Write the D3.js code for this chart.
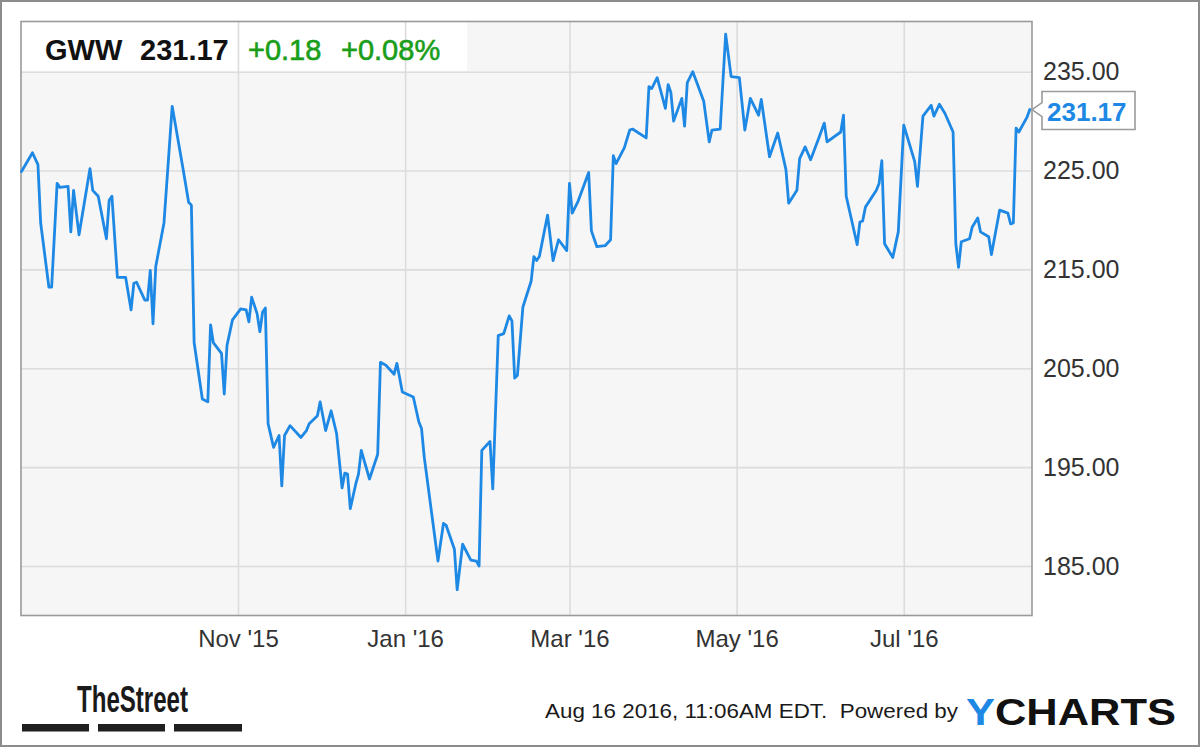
<!DOCTYPE html>
<html>
<head>
<meta charset="utf-8">
<script src="https://cdn.jsdelivr.net/npm/d3@7"></script>
<style>
  html, body { margin: 0; padding: 0; background: #fff; }
  svg { display: block; font-family: "Liberation Sans", Arial, sans-serif; }
</style>
</head>
<body>
<svg id="chart" width="1200" height="747"></svg>
<script>
// ---- data ----
const ticker = "GWW";
const lastPrice = "231.17";
const change = "+0.18";
const changePct = "+0.08%";

const dates = [
  "2015-08-14","2015-08-18","2015-08-20","2015-08-21","2015-08-24","2015-08-25","2015-08-27","2015-08-28","2015-08-31",
  "2015-09-01","2015-09-02","2015-09-04","2015-09-08","2015-09-09","2015-09-11","2015-09-14","2015-09-15","2015-09-16",
  "2015-09-18","2015-09-21","2015-09-23","2015-09-24","2015-09-25","2015-09-28","2015-09-29","2015-09-30",
  "2015-10-01","2015-10-02","2015-10-05","2015-10-08","2015-10-12","2015-10-14","2015-10-15","2015-10-16","2015-10-19",
  "2015-10-21","2015-10-22","2015-10-23","2015-10-26","2015-10-27","2015-10-28","2015-10-30",
  "2015-11-02","2015-11-04","2015-11-05","2015-11-06","2015-11-08","2015-11-09","2015-11-10","2015-11-11","2015-11-12",
  "2015-11-14","2015-11-16","2015-11-17","2015-11-18","2015-11-20","2015-11-24","2015-11-26","2015-11-27","2015-11-30",
  "2015-12-01","2015-12-03","2015-12-05","2015-12-07","2015-12-09","2015-12-10","2015-12-11","2015-12-12","2015-12-14",
  "2015-12-15","2015-12-16","2015-12-19","2015-12-22","2015-12-23","2015-12-25","2015-12-28","2015-12-29","2015-12-31",
  "2016-01-04","2016-01-06","2016-01-07","2016-01-08","2016-01-13","2016-01-15","2016-01-16","2016-01-19","2016-01-20",
  "2016-01-22","2016-01-25","2016-01-27","2016-01-28","2016-01-29",
  "2016-02-01","2016-02-02","2016-02-04","2016-02-06","2016-02-08","2016-02-09","2016-02-10","2016-02-11","2016-02-13",
  "2016-02-16","2016-02-17","2016-02-18","2016-02-19","2016-02-22","2016-02-24","2016-02-26","2016-02-29",
  "2016-03-01","2016-03-02","2016-03-04","2016-03-08","2016-03-09","2016-03-11","2016-03-14","2016-03-16","2016-03-17",
  "2016-03-18","2016-03-21","2016-03-23","2016-03-24","2016-03-29","2016-03-30","2016-03-31",
  "2016-04-02","2016-04-05","2016-04-06","2016-04-07","2016-04-08","2016-04-11","2016-04-12","2016-04-13","2016-04-15",
  "2016-04-19","2016-04-21","2016-04-22","2016-04-25","2016-04-27","2016-04-29",
  "2016-05-02","2016-05-04","2016-05-06","2016-05-09","2016-05-10","2016-05-13","2016-05-16","2016-05-19","2016-05-20",
  "2016-05-23","2016-05-24","2016-05-26","2016-05-28","2016-05-31",
  "2016-06-02","2016-06-03","2016-06-08","2016-06-09","2016-06-10","2016-06-14","2016-06-15","2016-06-16","2016-06-17",
  "2016-06-21","2016-06-22","2016-06-23","2016-06-24","2016-06-27","2016-06-29",
  "2016-07-01","2016-07-05","2016-07-06","2016-07-08","2016-07-11","2016-07-12","2016-07-14","2016-07-16","2016-07-19",
  "2016-07-20","2016-07-21","2016-07-22","2016-07-25","2016-07-26","2016-07-28","2016-07-29",
  "2016-08-01","2016-08-02","2016-08-05","2016-08-08","2016-08-09","2016-08-10","2016-08-11","2016-08-12","2016-08-15","2016-08-16"
];

const prices = [
  224.9,226.8,225.6,219.7,213.2,213.2,223.7,223.3,223.4,
  218.8,223.0,218.5,225.2,223.0,222.4,218.1,222.0,222.4,
  214.2,214.2,210.9,213.6,213.7,211.9,211.9,214.9,
  209.5,215.3,219.7,231.5,225.1,221.8,221.5,207.6,201.9,
  201.6,209.4,207.6,206.5,202.4,207.3,209.9,
  211.0,210.9,209.7,212.2,210.5,208.7,210.7,211.1,199.4,
  197.0,198.2,193.1,198.2,199.2,198.0,198.7,199.4,200.2,
  201.6,198.7,200.7,198.4,192.9,194.4,194.3,190.8,193.3,
  194.3,196.7,193.8,196.3,205.6,205.3,204.4,205.5,202.6,
  202.1,199.6,198.9,196.0,185.5,189.3,189.1,186.7,182.6,
  187.2,185.6,185.5,185.0,196.7,
  197.6,192.8,208.3,208.5,210.3,209.8,204.0,204.3,211.2,
  213.8,216.3,215.9,216.3,220.5,215.9,218.0,216.9,
  223.7,220.7,221.8,224.8,218.9,217.3,217.4,218.0,226.5,
  225.7,227.3,229.1,229.2,228.3,233.5,233.3,
  234.4,231.3,233.7,232.9,230.0,232.3,229.5,233.9,235.0,
  232.0,227.9,229.1,229.2,238.8,234.5,
  234.4,229.1,232.3,230.6,232.2,226.4,228.8,225.1,221.7,
  223.0,226.2,227.4,226.1,228.3,
  229.8,227.9,228.9,230.6,222.4,217.5,219.8,219.9,221.3,
  223.0,223.7,226.0,217.6,216.2,218.8,
  229.6,225.9,223.4,230.5,231.6,230.5,231.7,230.8,228.9,
  217.6,215.2,217.8,218.1,219.3,220.2,218.8,
  218.3,216.5,221.0,220.7,219.6,219.7,229.3,228.9,230.4,231.17
];

const yTicks = [185, 195, 205, 215, 225, 235];
const xTickDates = ["2015-11-01", "2016-01-01", "2016-03-01", "2016-05-01", "2016-07-01"];
const xTickLabels = ["Nov '15", "Jan '16", "Mar '16", "May '16", "Jul '16"];
const xDomain = ["2015-08-14", "2016-08-16"];
const footerText = "Aug 16 2016, 11:06AM EDT.  Powered by";

// ---- layout ----
const parse = d3.utcParse("%Y-%m-%d");
const data = dates.map((d, i) => ({ date: parse(d), v: prices[i] }));

const plot = { left: 21, top: 21.5, right: 1032, bottom: 615.5 };
const lineColor = "#1e88e5";

const x = d3.scaleUtc().domain(xDomain.map(parse)).range([21.5, 1029.8]);
const y = d3.scaleLinear().domain([185, 235]).range([566, 71.7]);

const svg = d3.select("#chart");

// outer frame
svg.append("rect").attr("x", 1).attr("y", 1).attr("width", 1198).attr("height", 745)
  .attr("fill", "#fff").attr("stroke", "#8c8c8c").attr("stroke-width", 2);

// plot background
svg.append("rect").attr("x", plot.left).attr("y", plot.top)
  .attr("width", plot.right - plot.left).attr("height", plot.bottom - plot.top)
  .attr("fill", "#f6f6f6");

// header box
svg.append("rect").attr("x", 22).attr("y", 22).attr("width", 445).attr("height", 49)
  .attr("fill", "#ffffff");

// grid lines
const gy = svg.append("g").attr("transform", `translate(${plot.left},0)`)
  .call(d3.axisRight(y).tickValues(yTicks).tickSize(plot.right - plot.left).tickFormat(""));
gy.select(".domain").remove();
gy.selectAll("line").attr("stroke", "#dcdcdc").attr("stroke-width", 1.6);

const gx = svg.append("g").attr("transform", `translate(0,${plot.top})`)
  .call(d3.axisBottom(x).tickValues(xTickDates.map(parse)).tickSize(plot.bottom - plot.top).tickFormat(""));
gx.select(".domain").remove();
gx.selectAll("line").attr("stroke", "#dcdcdc").attr("stroke-width", 1.6);

// plot border
svg.append("rect").attr("x", plot.left).attr("y", plot.top)
  .attr("width", plot.right - plot.left).attr("height", plot.bottom - plot.top)
  .attr("fill", "none").attr("stroke", "#9a9a9a").attr("stroke-width", 1.6);

// price line
svg.append("path").datum(data)
  .attr("d", d3.line().x(d => x(d.date)).y(d => y(d.v)))
  .attr("fill", "none").attr("stroke", lineColor).attr("stroke-width", 2.8)
  .attr("stroke-linejoin", "round").attr("stroke-linecap", "round");

// y axis labels
const ya = svg.append("g").attr("transform", `translate(${plot.right},0)`)
  .call(d3.axisRight(y).tickValues(yTicks).tickSize(0).tickPadding(11).tickFormat(d3.format(".2f")));
ya.select(".domain").remove();
ya.selectAll("text").attr("fill", "#333").attr("font-size", 25)
  .attr("font-family", '"Liberation Sans", Arial, sans-serif');

// x axis labels
const xa = svg.append("g").attr("transform", `translate(0,${plot.bottom})`)
  .call(d3.axisBottom(x).tickValues(xTickDates.map(parse)).tickSize(0).tickPadding(14)
    .tickFormat((d, i) => xTickLabels[i]));
xa.select(".domain").remove();
xa.selectAll("text").attr("fill", "#333").attr("font-size", 24)
  .attr("font-family", '"Liberation Sans", Arial, sans-serif');

// header texts
svg.append("text").attr("x", 45).attr("y", 60).attr("font-size", 29).attr("font-weight", "bold")
  .attr("fill", "#111").text(ticker);
svg.append("text").attr("x", 140).attr("y", 60).attr("font-size", 29).attr("font-weight", "bold")
  .attr("fill", "#111").text(lastPrice);
svg.append("text").attr("x", 248).attr("y", 60).attr("font-size", 29)
  .attr("fill", "#1a9e1a").attr("stroke", "#1a9e1a").attr("stroke-width", 0.6).text(change);
svg.append("text").attr("x", 341).attr("y", 60).attr("font-size", 29)
  .attr("fill", "#1a9e1a").attr("stroke", "#1a9e1a").attr("stroke-width", 0.6).text(changePct);

// last value label
const last = data[data.length - 1];
const ty = y(last.v);
const bx = 1042, bw = 93, bTop = ty - 18, bBot = ty + 20;
svg.append("path")
  .attr("d", `M${plot.right},${ty} L${bx},${ty - 7} L${bx},${bTop} L${bx + bw},${bTop} L${bx + bw},${bBot} L${bx},${bBot} L${bx},${ty + 7} Z`)
  .attr("fill", "#fff").attr("stroke", "#9a9a9a").attr("stroke-width", 1.6);
svg.append("text").attr("x", 1047).attr("y", ty + 11).attr("font-size", 26).attr("font-weight", "bold")
  .attr("fill", lineColor).text(d3.format(".2f")(last.v));

// footer: TheStreet
svg.append("text").attr("x", 77).attr("y", 712).attr("font-size", 36).attr("font-weight", "bold")
  .attr("font-family", '"Liberation Sans Narrow", "Liberation Sans", Arial, sans-serif')
  .attr("textLength", 111).attr("lengthAdjust", "spacingAndGlyphs")
  .attr("fill", "#1a1a1a").text("TheStreet");
[[22, 89], [98, 165], [174, 242]].forEach(([a, b]) => {
  svg.append("rect").attr("x", a).attr("y", 724).attr("width", b - a).attr("height", 7.5).attr("fill", "#1f1f1f");
});

// footer text
svg.append("text").attr("x", 545).attr("y", 718).attr("font-size", 21)
  .attr("xml:space", "preserve").style("white-space", "pre")
  .attr("textLength", 413).attr("lengthAdjust", "spacingAndGlyphs")
  .attr("fill", "#1a1a1a").text(footerText);

// YCHARTS logo
const logo = svg.append("text").attr("x", 966).attr("y", 725).attr("font-size", 37).attr("font-weight", "bold")
  .attr("textLength", 210).attr("lengthAdjust", "spacingAndGlyphs");
logo.append("tspan").attr("fill", lineColor).text("Y");
logo.append("tspan").attr("fill", "#111").text("CHARTS");
</script>
</body>
</html>
